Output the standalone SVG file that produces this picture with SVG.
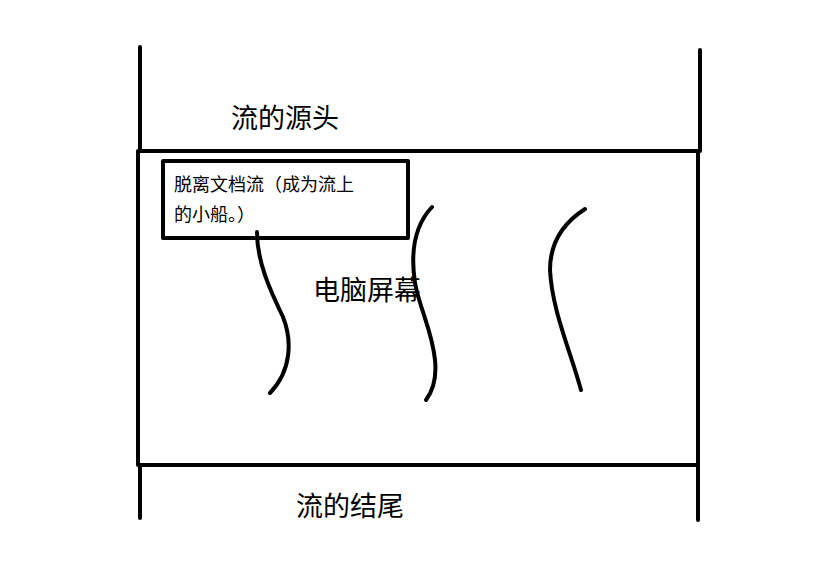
<svg xmlns="http://www.w3.org/2000/svg" width="831" height="577" viewBox="0 0 831 577">
<style>
.ln{fill:none;stroke:#000;stroke-width:4;stroke-linecap:round;stroke-linejoin:round}
.t{font-family:"Noto Sans CJK SC","Microsoft YaHei",sans-serif;fill:#000}
.big{font-size:27px}
.sm{font-size:18px}
</style>
<rect width="831" height="577" fill="#fff"/>
<g id="frame">
<path class="ln" d="M140,47 L140,151"/>
<path class="ln" d="M700,50 L700,151"/>
<rect class="ln" x="138" y="151" width="560" height="314" stroke-linecap="butt"/>
<path class="ln" d="M140,465 L140,518"/>
<path class="ln" d="M698,465 L698,520"/>
</g>
<g id="source"><text class="t big" x="231" y="128">流的源头</text></g>
<g id="screen"><text class="t big" x="313" y="300">电脑屏幕</text></g>
<g id="end"><text class="t big" x="296" y="516">流的结尾</text></g>
<g id="box">
<rect class="ln" x="163" y="161" width="245" height="77" stroke-linecap="butt" stroke-linejoin="miter"/>
<text class="t sm" x="174" y="191">脱离文档流（成为流上</text>
<text class="t sm" x="174" y="221">的小船。）</text>
</g>
<g id="connectors">
<path class="ln" d="M257,232 C257,262 270,290 283,317 C292,340 292,370 270,393"/>
<path class="ln" d="M432,207 C415,225 410,250 415,283 C420,310 432,330 435,360 C437,380 432,392 426,400"/>
<path class="ln" d="M585,209 C560,225 550,245 550,270 C552,310 570,350 581,390"/>
</g>
</svg>
